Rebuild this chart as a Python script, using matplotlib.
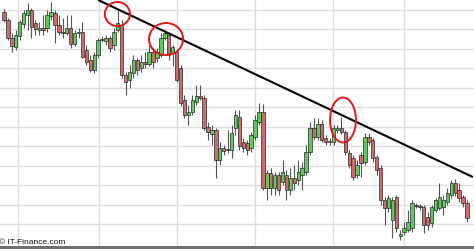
import matplotlib
matplotlib.use('Agg')
import matplotlib.pyplot as plt
from matplotlib.patches import Ellipse, Rectangle
import numpy as np

# OHLC (arbitrary price units)
opens = [238, 230, 212, 203, 214, 226, 235, 240, 227, 220, 222, 222, 234, 237, 225, 218, 217, 222, 206, 217,
         218, 200, 190, 180, 195, 210, 209, 212, 205, 220, 225, 175, 170, 177, 190, 182, 188, 186, 198, 192,
         195, 212, 215, 197, 198, 182, 150, 135, 138, 148, 154, 152, 123, 116, 120, 90, 102, 100, 100, 122,
         133, 108, 107, 102, 113, 128, 138, 62, 77, 62, 75, 68, 75, 60, 72, 70, 75, 78, 98, 122,
         113, 126, 112, 109, 108, 120, 122, 118, 97, 92, 75, 95, 88, 113, 110, 93, 82, 50, 42, 30,
         53, 14, 18, 20, 22, 45, 44, 43, 33, 27, 40, 42, 43, 48, 55, 67, 60, 53, 47]
closes = [230, 212, 204, 215, 228, 237, 240, 223, 221, 222, 220, 235, 238, 225, 218, 217, 222, 206, 217, 218,
          193, 188, 180, 195, 210, 211, 212, 202, 218, 227, 175, 168, 178, 190, 180, 188, 186, 198, 188, 198,
          212, 217, 195, 203, 170, 147, 135, 138, 150, 154, 152, 122, 118, 120, 90, 102, 99, 101, 117, 135,
          104, 102, 100, 115, 130, 138, 62, 77, 62, 75, 60, 78, 60, 72, 67, 78, 82, 98, 122, 113,
          126, 110, 108, 108, 122, 122, 118, 98, 85, 73, 85, 87, 113, 108, 92, 80, 50, 42, 52, 50,
          22, 16, 22, 28, 47, 44, 43, 25, 25, 43, 50, 53, 50, 57, 67, 57, 52, 47, 32]
highs = [241, 232, 217, 220, 230, 240, 247, 242, 230, 228, 235, 240, 248, 240, 235, 232, 235, 235, 220, 222,
         228, 205, 195, 198, 212, 214, 215, 214, 222, 240, 230, 178, 185, 195, 192, 195, 198, 205, 202, 202,
         217, 220, 217, 205, 200, 185, 155, 145, 155, 165, 165, 155, 128, 125, 122, 108, 105, 120, 125, 140,
         140, 112, 110, 118, 135, 147, 146, 80, 82, 78, 78, 90, 80, 82, 85, 90, 88, 105, 128, 132,
         132, 130, 115, 112, 125, 125, 133, 120, 100, 95, 90, 98, 117, 117, 112, 95, 85, 53, 55, 53,
         55, 20, 28, 40, 50, 47, 46, 45, 38, 45, 52, 67, 55, 62, 70, 71, 67, 55, 50]
lows = [228, 210, 198, 200, 210, 222, 220, 212, 215, 215, 215, 218, 230, 207, 215, 212, 215, 202, 204, 212,
        192, 185, 178, 177, 192, 208, 205, 198, 200, 218, 172, 155, 162, 172, 175, 178, 182, 184, 182, 188,
        193, 210, 190, 184, 168, 144, 132, 125, 135, 145, 150, 120, 110, 105, 72, 85, 95, 97, 92, 115,
        100, 98, 95, 98, 110, 125, 60, 50, 55, 55, 55, 65, 50, 55, 60, 65, 60, 75, 95, 110,
        110, 108, 105, 105, 105, 117, 116, 95, 82, 70, 72, 73, 85, 105, 88, 75, 45, 25, 38, 12,
        18, 10, 15, 18, 18, 42, 40, 17, 20, 23, 38, 40, 35, 45, 52, 54, 48, 43, 28]

# trendline through the highs and the marked touches
trend_x = [24.0, 119.5]
trend_y = [250, 73]
touch_x = [28.9, 41.3, 86.4]
touch_y = [236, 211, 130]
touch_w = [6.4, 8.7, 6.6]
touch_h = [24, 32, 45]

grid_prices = [26, 45.5, 65, 84.5, 104, 123.5, 143, 162.5, 182, 201.5, 221, 240.5]
grid_dates = [3.6, 24.2, 44.1, 64.0, 83.8, 101.9]

o = np.array(opens)
c = np.array(closes)
idx = np.arange(len(o))
colors = np.where(c >= o, '#58cc58', '#d06a6a')
bottoms = np.minimum(o, c)
heights = np.maximum(np.abs(c - o), 1.2)

fig = plt.figure(figsize=(4.74, 2.49), dpi=100)
ax = fig.add_axes([0, 0, 1, 1])
ax.set_xlim(-1.02, 119.8)
ax.set_ylim(1, 250)

ax.set_yticks(grid_prices)
ax.set_xticks(grid_dates)
ax.grid(True, color='#dedede', lw=1.0, zorder=0)
ax.tick_params(left=False, bottom=False, labelleft=False, labelbottom=False)
for s in ax.spines.values():
    s.set_visible(False)

ax.vlines(idx, lows, highs, color='#555555', lw=0.8, zorder=2)
ax.bar(idx, heights, bottom=bottoms, width=0.85, color=colors,
       edgecolor='#2a2a2a', linewidth=0.5, zorder=3)

ax.plot(trend_x, trend_y, color='black', lw=1.5, zorder=4, solid_capstyle='butt')

for x, y, w, h in zip(touch_x, touch_y, touch_w, touch_h):
    ax.add_patch(Ellipse((x, y), w, h, fill=False, edgecolor='#e01818', lw=1.4, zorder=5))

fig.patches.append(Rectangle((0, 0), 1, 3 / 249, transform=fig.transFigure,
                             facecolor='#707070', edgecolor='none', zorder=6))
fig.text(-0.003, 0.025, '© IT-Finance.com', fontsize=6, family='Liberation Sans',
         color='#111111', ha='left', va='center')

fig.savefig('out.png', dpi=100)
